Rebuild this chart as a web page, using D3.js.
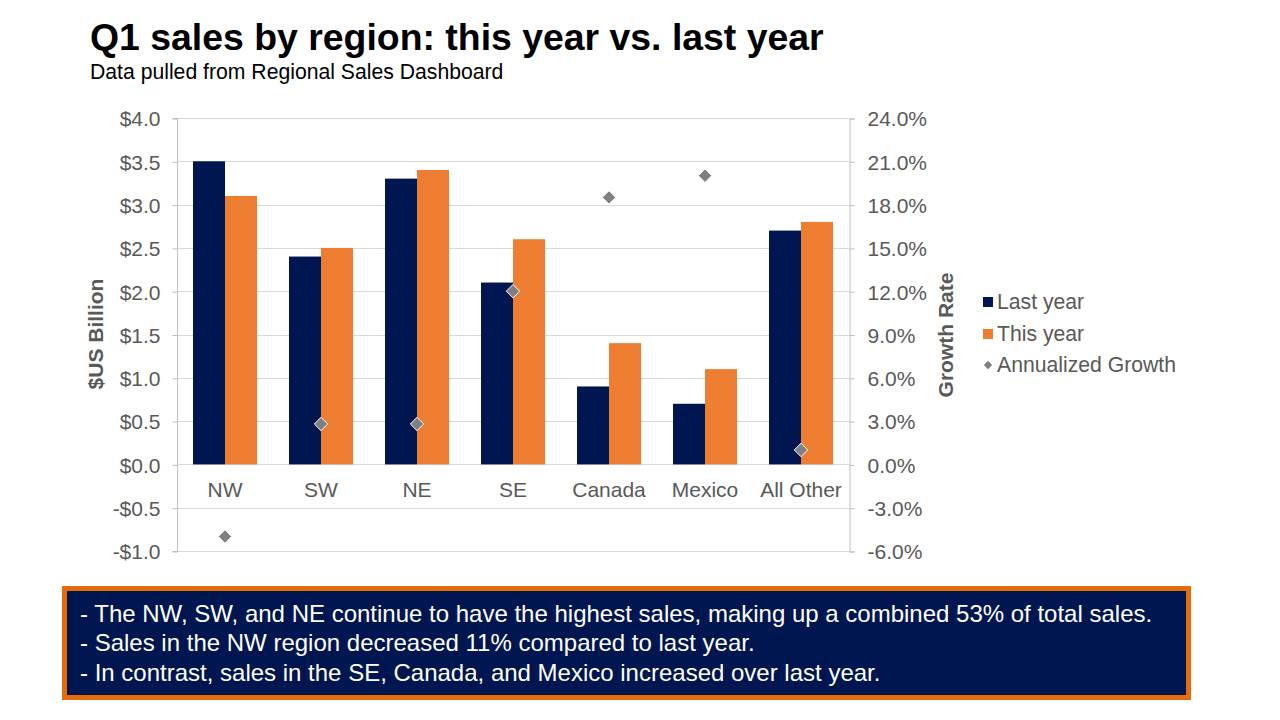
<!DOCTYPE html>
<html><head><meta charset="utf-8">
<script src="https://cdn.jsdelivr.net/npm/d3@7"></script>
<style>
body{margin:0;background:#fff;}
svg{display:block;font-family:"Liberation Sans",Arial,sans-serif;}
</style></head>
<body>
<svg id="c" width="1280" height="720"></svg>
<script>
const categories = ["NW","SW","NE","SE","Canada","Mexico","All Other"];
const lastYear = [3.5,2.4,3.3,2.1,0.9,0.7,2.7];
const thisYear = [3.1,2.5,3.4,2.6,1.4,1.1,2.8];
const growth = [-5.0,2.8,2.8,12.0,18.5,20.0,1.0];
const leftTicks = [-1.0,-0.5,0,0.5,1.0,1.5,2.0,2.5,3.0,3.5,4.0];
const rightTicks = [-6,-3,0,3,6,9,12,15,18,21,24];
const seriesNames = ["Last year","This year","Annualized Growth"];
const notes = [
 "- The NW, SW, and NE continue to have the highest sales, making up a combined 53% of total sales.",
 "- Sales in the NW region decreased 11% compared to last year.",
 "- In contrast, sales in the SE, Canada, and Mexico increased over last year."
];

const navy="#001651", orange="#ED7D31", gray="#595959", diamond="#7F7F7F";
const svg=d3.select("#c");
const L=177,R=849,T=118,B=551;
const x=d3.scaleBand().domain(categories).range([L,R]).paddingInner(1/3).paddingOuter(1/6);
const y=d3.scaleLinear().domain([-1,4]).range([B,T]);
const y2=d3.scaleLinear().domain([-6,24]).range([B,T]);

svg.append("text").attr("x",90).attr("y",50).attr("font-size",37.4).attr("font-weight","bold").attr("fill","#000")
 .text("Q1 sales by region: this year vs. last year");
svg.append("text").attr("x",90).attr("y",79).attr("font-size",21.2).attr("fill","#000")
 .text("Data pulled from Regional Sales Dashboard");

// grid
svg.append("g").selectAll("line").data(leftTicks).join("line")
 .attr("x1",L).attr("x2",R).attr("y1",d=>Math.round(y(d))+0.5).attr("y2",d=>Math.round(y(d))+0.5)
 .attr("stroke","#D9D9D9").attr("stroke-width",1);

const ax=d3.axisLeft(y).tickValues(leftTicks).tickSize(5).tickPadding(12)
 .tickFormat(d=>(d<0?"-$":"$")+Math.abs(d).toFixed(1));
const gl=svg.append("g").attr("transform",`translate(${L+0.5},0.5)`).call(ax);
gl.select(".domain").attr("stroke","#BFBFBF").attr("d",`M-5,${y(-1)}H0V${y(4)}H-5`);
gl.selectAll(".tick line").attr("stroke","#BFBFBF");
gl.selectAll(".tick text").attr("fill",gray).attr("font-size",21).attr("font-family","Liberation Sans,Arial,sans-serif").attr("dy","0.35em");

const ar=d3.axisRight(y2).tickValues(rightTicks).tickSize(5).tickPadding(13)
 .tickFormat(d=>d.toFixed(1)+"%");
const gr=svg.append("g").attr("transform",`translate(${R+0.5},0.5)`).call(ar);
gr.select(".domain").attr("stroke","#BFBFBF");
gr.selectAll(".tick line").attr("stroke","#BFBFBF");
gr.selectAll(".tick text").attr("fill",gray).attr("font-size",21).attr("font-family","Liberation Sans,Arial,sans-serif").attr("dy","0.35em");

// bars
const bw=x.bandwidth()/2;
svg.append("g").selectAll("rect").data(categories).join("rect")
 .attr("x",d=>x(d)).attr("width",bw)
 .attr("y",(d,i)=>y(lastYear[i])).attr("height",(d,i)=>y(0)-y(lastYear[i])).attr("fill",navy);
svg.append("g").selectAll("rect").data(categories).join("rect")
 .attr("x",d=>x(d)+bw).attr("width",bw)
 .attr("y",(d,i)=>y(thisYear[i])).attr("height",(d,i)=>y(0)-y(thisYear[i])).attr("fill",orange);

// category labels
svg.append("g").selectAll("text").data(categories).join("text")
 .attr("x",d=>x(d)+x.bandwidth()/2).attr("y",y(0)+33).attr("text-anchor","middle")
 .attr("font-size",21).attr("fill",gray).text(d=>d);

// diamonds
const ds=d3.symbol().type(d3.symbolDiamond2).size(115);
svg.append("g").selectAll("path").data(categories).join("path")
 .attr("d",ds).attr("transform",(d,i)=>`translate(${x(d)+x.bandwidth()/2},${y2(growth[i])})`)
 .attr("fill",diamond).attr("stroke","#fff").attr("stroke-width",1);

// axis titles
svg.append("text").attr("transform",`translate(103,334) rotate(-90)`).attr("text-anchor","middle")
 .attr("font-size",21).attr("font-weight","bold").attr("fill",gray).text("$US Billion");
svg.append("text").attr("transform",`translate(953,335) rotate(-90)`).attr("text-anchor","middle")
 .attr("font-size",21).attr("font-weight","bold").attr("fill",gray).text("Growth Rate");

// legend
const lg=svg.append("g");
const ly=[302,334,365];
seriesNames.forEach((n,i)=>{
  if(i<2){
    lg.append("rect").attr("x",983).attr("y",ly[i]-5).attr("width",10).attr("height",10).attr("fill",i==0?navy:orange);
  } else {
    lg.append("path").attr("d",d3.symbol().type(d3.symbolDiamond2).size(45)).attr("transform",`translate(988,${ly[i]})`).attr("fill",diamond);
  }
  lg.append("text").attr("x",997).attr("y",ly[i]).attr("dy","0.35em").attr("font-size",21.2).attr("fill",gray).text(n);
});

// note box
svg.append("rect").attr("x",64.5).attr("y",588.5).attr("width",1124).attr("height",109)
 .attr("fill",navy).attr("stroke","#E46C0A").attr("stroke-width",5);
svg.append("g").selectAll("text").data(notes).join("text")
 .attr("x",80).attr("y",(d,i)=>622+i*29.3).attr("font-size",24).attr("fill","#fff").text(d=>d);
</script>
</body></html>
